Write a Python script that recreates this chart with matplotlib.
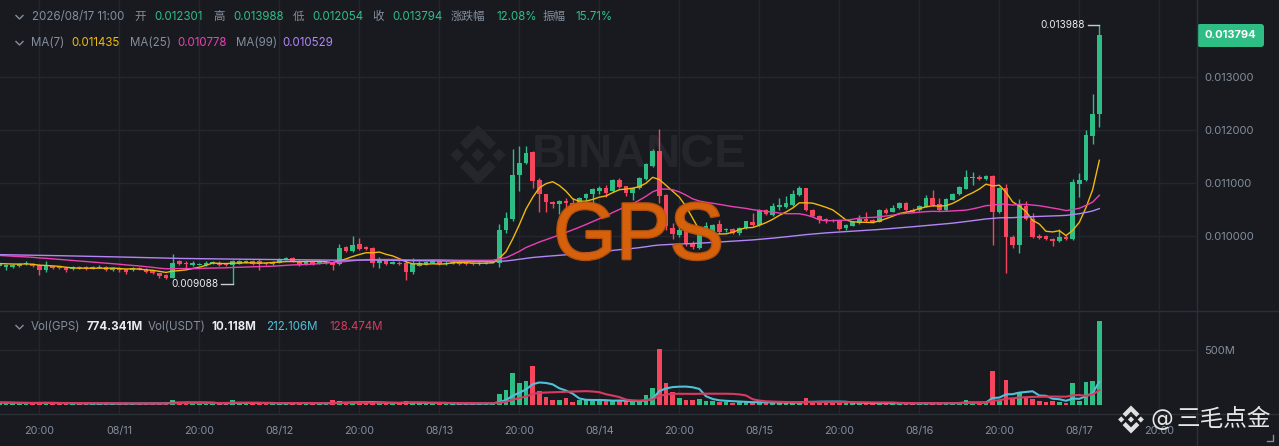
import numpy as np
import pandas as pd
import matplotlib
matplotlib.use("Agg")
import matplotlib.pyplot as plt
import matplotlib.patheffects as pe
from matplotlib.lines import Line2D
from matplotlib.patches import Polygon, FancyBboxPatch
from matplotlib.ticker import FormatStrFormatter
from matplotlib.transforms import IdentityTransform

W, H = 1279, 446
BG = "#181a20"
GRID = "#23262c"
SEP = "#2b2f36"
TXT = "#848e9c"
UP = "#2ebd85"
DOWN = "#f6465d"
MA_COLORS = ["#f0b90b", "#eb40b5", "#b385f8"]
VOL_MA_COLORS = ["#4fc1d9", "#d93a62"]
FONT = ["Inter", "Noto Sans CJK SC", "DejaVu Sans"]

# GPS/USDT 1h candles, last one 2026/08/17 11:00
opens = [
    0.00944, 0.00941, 0.00942, 0.00944, 0.00947, 0.00947, 0.00946, 0.00935, 0.00944, 0.00942, 0.00939, 0.00937,
    0.00941, 0.00941, 0.00940, 0.00940, 0.00941, 0.00936, 0.00939, 0.00937, 0.00936, 0.00940, 0.00937, 0.00935,
    0.00930, 0.00926, 0.00921, 0.00952, 0.00950, 0.00945, 0.00946, 0.00945, 0.00949, 0.00950, 0.00948, 0.00945,
    0.00948, 0.00950, 0.00952, 0.00953, 0.00948, 0.00947, 0.00950, 0.00955, 0.00958, 0.00953, 0.00947, 0.00951,
    0.00948, 0.00949, 0.00950, 0.00947, 0.00979, 0.00972, 0.00984, 0.00980, 0.00978, 0.00950, 0.00955, 0.00948,
    0.00950, 0.00950, 0.00933, 0.00944, 0.00946, 0.00950, 0.00953, 0.00947, 0.00948, 0.00951, 0.00950, 0.00950,
    0.00947, 0.00948, 0.00950, 0.00950, 0.01011, 0.01033, 0.01115, 0.01137, 0.01158, 0.01105, 0.01079, 0.01065,
    0.01060, 0.01066, 0.01063, 0.01055, 0.01071, 0.01079, 0.01084, 0.01090, 0.01084, 0.01106, 0.01094, 0.01082,
    0.01090, 0.01108, 0.01133, 0.01160, 0.01077, 0.01016, 0.01002, 0.01011, 0.00986, 0.00978, 0.01004, 0.01005,
    0.01023, 0.01011, 0.01014, 0.01006, 0.01015, 0.01027, 0.01021, 0.01049, 0.01040, 0.01055, 0.01055, 0.01058,
    0.01077, 0.01090, 0.01050, 0.01038, 0.01032, 0.01031, 0.01030, 0.01016, 0.01019, 0.01024, 0.01033, 0.01031,
    0.01027, 0.01050, 0.01046, 0.01052, 0.01063, 0.01050, 0.01049, 0.01055, 0.01072, 0.01060, 0.01049, 0.01068,
    0.01079, 0.01089, 0.01109, 0.01111, 0.01107, 0.01113, 0.01045, 0.01090, 0.00999, 0.00983, 0.01057, 0.01033,
    0.01000, 0.01000, 0.00994, 0.00991, 0.00999, 0.00994, 0.01099, 0.01106, 0.01189, 0.012301,
]
highs = [
    0.00951, 0.00947, 0.00947, 0.00950, 0.00953, 0.00949, 0.00948, 0.00952, 0.00946, 0.00944, 0.00941, 0.00944,
    0.00943, 0.00943, 0.00944, 0.00946, 0.00943, 0.00941, 0.00941, 0.00938, 0.00942, 0.00942, 0.00939, 0.00936,
    0.00931, 0.00928, 0.00966, 0.00955, 0.00952, 0.00952, 0.00950, 0.00952, 0.00953, 0.00952, 0.00950, 0.00954,
    0.00954, 0.00955, 0.00954, 0.00957, 0.00950, 0.00953, 0.00959, 0.00961, 0.00960, 0.00955, 0.00954, 0.00953,
    0.00954, 0.00953, 0.00952, 0.00985, 0.00981, 0.01000, 0.00997, 0.00982, 0.00980, 0.00961, 0.00957, 0.00953,
    0.00952, 0.00952, 0.00958, 0.00952, 0.00953, 0.00955, 0.00955, 0.00952, 0.00952, 0.00953, 0.00951, 0.00951,
    0.00952, 0.00952, 0.00954, 0.01023, 0.01045, 0.01165, 0.01170, 0.01170, 0.01160, 0.01109, 0.01080, 0.01066,
    0.01067, 0.01071, 0.01071, 0.01074, 0.01081, 0.01090, 0.01095, 0.01096, 0.01108, 0.01110, 0.01095, 0.01093,
    0.01112, 0.01138, 0.01165, 0.01202, 0.01080, 0.01025, 0.01020, 0.01015, 0.00990, 0.01010, 0.01027, 0.01022,
    0.01030, 0.01015, 0.01016, 0.01017, 0.01029, 0.01043, 0.01051, 0.01051, 0.01062, 0.01071, 0.01075, 0.01086,
    0.01094, 0.01091, 0.01051, 0.01040, 0.01034, 0.01033, 0.01031, 0.01023, 0.01029, 0.01040, 0.01046, 0.01033,
    0.01051, 0.01052, 0.01058, 0.01065, 0.01065, 0.01052, 0.01059, 0.01077, 0.01086, 0.01072, 0.01072, 0.01082,
    0.01094, 0.01125, 0.01121, 0.01116, 0.01116, 0.01116, 0.01092, 0.01099, 0.01001, 0.01069, 0.01066, 0.01043,
    0.01003, 0.01002, 0.00996, 0.01014, 0.01001, 0.01108, 0.01118, 0.01200, 0.01268, 0.013988,
]
lows = [
    0.00941, 0.00936, 0.00940, 0.00942, 0.00945, 0.00942, 0.00926, 0.00933, 0.00937, 0.00937, 0.00933, 0.00935,
    0.00937, 0.00935, 0.00938, 0.00939, 0.00934, 0.00934, 0.00933, 0.00929, 0.00934, 0.00935, 0.00931, 0.00928,
    0.00921, 0.00919, 0.00920, 0.00946, 0.00939, 0.00944, 0.00945, 0.00944, 0.00947, 0.00943, 0.00943, 0.009088,
    0.00947, 0.00949, 0.00946, 0.00935, 0.00945, 0.00946, 0.00949, 0.00954, 0.00951, 0.00943, 0.00946, 0.00946,
    0.00947, 0.00948, 0.00936, 0.00945, 0.00970, 0.00970, 0.00973, 0.00973, 0.00941, 0.00939, 0.00946, 0.00947,
    0.00945, 0.00917, 0.00928, 0.00943, 0.00945, 0.00949, 0.00945, 0.00946, 0.00947, 0.00946, 0.00946, 0.00945,
    0.00946, 0.00947, 0.00949, 0.00942, 0.01006, 0.01028, 0.01085, 0.01135, 0.01091, 0.01046, 0.01046, 0.01052,
    0.01041, 0.01052, 0.01052, 0.01054, 0.01060, 0.01060, 0.01079, 0.01074, 0.01083, 0.01090, 0.01075, 0.01068,
    0.01088, 0.01106, 0.01130, 0.01062, 0.01012, 0.00995, 0.00998, 0.00982, 0.00975, 0.00975, 0.01000, 0.01002,
    0.01005, 0.01008, 0.01004, 0.01002, 0.01013, 0.01019, 0.01019, 0.01040, 0.01038, 0.01049, 0.01053, 0.01056,
    0.01075, 0.01048, 0.01035, 0.01024, 0.01024, 0.01026, 0.01012, 0.01012, 0.01018, 0.01023, 0.01026, 0.01025,
    0.01026, 0.01042, 0.01045, 0.01051, 0.01048, 0.01045, 0.01048, 0.01054, 0.01056, 0.01047, 0.01047, 0.01067,
    0.01078, 0.01088, 0.01096, 0.01106, 0.01105, 0.00983, 0.01043, 0.00931, 0.00978, 0.00967, 0.01030, 0.00997,
    0.00994, 0.00992, 0.00981, 0.00988, 0.00992, 0.00993, 0.01074, 0.01104, 0.01174, 0.012054,
]
closes = [
    0.00948, 0.00945, 0.00945, 0.00947, 0.00950, 0.00944, 0.00935, 0.00945, 0.00939, 0.00939, 0.00935, 0.00942,
    0.00939, 0.00937, 0.00942, 0.00942, 0.00936, 0.00939, 0.00935, 0.00933, 0.00940, 0.00937, 0.00933, 0.00930,
    0.00925, 0.00921, 0.00950, 0.00947, 0.00947, 0.00950, 0.00948, 0.00950, 0.00951, 0.00945, 0.00945, 0.00952,
    0.00952, 0.00952, 0.00948, 0.00948, 0.00947, 0.00951, 0.00957, 0.00959, 0.00953, 0.00945, 0.00952, 0.00948,
    0.00952, 0.00951, 0.00945, 0.00978, 0.00972, 0.00983, 0.00975, 0.00975, 0.00950, 0.00955, 0.00948, 0.00951,
    0.00947, 0.00933, 0.00948, 0.00950, 0.00951, 0.00953, 0.00947, 0.00950, 0.00950, 0.00948, 0.00948, 0.00947,
    0.00950, 0.00950, 0.00952, 0.01011, 0.01034, 0.01116, 0.01137, 0.01156, 0.01104, 0.01079, 0.01065, 0.01060,
    0.01066, 0.01062, 0.01055, 0.01072, 0.01080, 0.01088, 0.01090, 0.01082, 0.01106, 0.01093, 0.01082, 0.01090,
    0.01109, 0.01135, 0.01160, 0.01076, 0.01018, 0.01003, 0.01012, 0.00986, 0.00979, 0.01004, 0.01018, 0.01020,
    0.01008, 0.01013, 0.01006, 0.01016, 0.01028, 0.01021, 0.01050, 0.01042, 0.01057, 0.01058, 0.01062, 0.01079,
    0.01090, 0.01050, 0.01038, 0.01031, 0.01029, 0.01028, 0.01014, 0.01021, 0.01027, 0.01033, 0.01028, 0.01027,
    0.01049, 0.01044, 0.01053, 0.01063, 0.01050, 0.01046, 0.01057, 0.01072, 0.01058, 0.01049, 0.01069, 0.01080,
    0.01092, 0.01111, 0.01112, 0.01107, 0.01114, 0.01045, 0.01090, 0.00999, 0.00983, 0.01058, 0.01033, 0.00999,
    0.00996, 0.00994, 0.00991, 0.00999, 0.00994, 0.01101, 0.01106, 0.01191, 0.01230, 0.013794,
]
# volume in millions of GPS
volumes = [
    20, 18, 15, 15, 16, 14, 22, 20, 14, 12, 14, 12,
    10, 11, 10, 12, 13, 10, 12, 14, 12, 10, 12, 14,
    16, 18, 48, 20, 16, 14, 12, 12, 12, 14, 12, 42,
    14, 12, 12, 16, 10, 12, 18, 20, 16, 18, 12, 10,
    12, 10, 40, 30, 20, 24, 20, 16, 22, 18, 14, 12,
    12, 39, 20, 14, 12, 12, 12, 10, 10, 10, 10, 12,
    12, 14, 18, 98, 134, 296, 204, 220, 354, 128, 67, 43,
    43, 58, 24, 40, 43, 55, 43, 30, 30, 30, 30, 30,
    37, 88, 155, 509, 204, 113, 58, 43, 43, 49, 37, 30,
    27, 24, 20, 22, 22, 20, 30, 18, 20, 16, 16, 22,
    24, 64, 30, 25, 22, 18, 20, 14, 14, 16, 16, 12,
    18, 14, 12, 14, 14, 12, 12, 18, 16, 14, 16, 18,
    20, 43, 20, 14, 14, 308, 43, 226, 58, 119, 58, 55,
    34, 27, 37, 27, 18, 201, 37, 207, 223, 774.341,
]

time_labels = ["20:00", "08/11", "20:00", "08/12", "20:00", "08/13", "20:00",
               "08/14", "20:00", "08/15", "20:00", "08/16", "20:00", "08/17", "20:00"]
price_ticks = [0.010, 0.011, 0.012, 0.013]
ma_windows = [7, 25, 99]
ma_left = [0.00948, 0.00964, 0.00965]   # MA levels at the left edge of the chart
vol_ma_windows = [7, 14]


def sma(values, n, lead):
    s = pd.Series([lead] * (n - 1) + list(values))
    return s.rolling(n).mean().to_numpy()[n - 1:]


plt.rcParams["font.family"] = FONT

o, h, l, c = (np.array(a) for a in (opens, highs, lows, closes))
v = np.array(volumes)
x = np.arange(len(c))
col = np.where(c >= o, UP, DOWN)

fig = plt.figure(figsize=(W / 100, H / 100), dpi=100, facecolor=BG)


def rect(top, bottom, right=1196):
    return [0, 1 - bottom / H, right / W, (bottom - top) / H]


ax_p = fig.add_axes(rect(0, 310))
ax_v = fig.add_axes(rect(312, 414))
P_LIM = (0.0086038, 0.0144528)
V_LIM = (-85, 853)
X_LIM = (0.1, 179.5)
tick_pos = list(range(6, 6 + 12 * len(time_labels), 12))

for ax in (ax_p, ax_v):
    ax.set_facecolor(BG)
    for s in ax.spines.values():
        s.set_visible(False)
    ax.set_xlim(*X_LIM)
    ax.set_xticks(tick_pos)
    ax.yaxis.tick_right()
    ax.tick_params(length=0, labelsize=8, labelcolor=TXT, pad=5.8)
    ax.grid(True, color=GRID, lw=1, zorder=0)
    ax.set_axisbelow(True)

ax_p.set_ylim(*P_LIM)
ax_p.set_yticks(price_ticks)
ax_p.yaxis.set_major_formatter(FormatStrFormatter("%.6f"))
ax_p.tick_params(axis="x", labelbottom=False)

ax_v.set_ylim(*V_LIM)
ax_v.set_yticks([500])
ax_v.set_yticklabels(["500M"])
ax_v.set_xticklabels(time_labels)
ax_v.tick_params(axis="x", pad=8.5, labelsize=7.8)

# exchange watermark under the candles
ax_p.text(639 / 1196, 1 - 155 / 310, "BINANCE", transform=ax_p.transAxes, ha="center", va="center",
          fontsize=34, fontweight="bold", family="Liberation Sans", color="#24262c", zorder=1)

LOGO = [
    [(0, .22), (.22, 0), (0, -.22), (-.22, 0)],
    [(-.7, .22), (-.48, 0), (-.7, -.22), (-.92, 0)],
    [(.7, .22), (.92, 0), (.7, -.22), (.48, 0)],
    [(0, 1), (.6, .4), (.38, .18), (0, .56), (-.38, .18), (-.6, .4)],
    [(0, -1), (.6, -.4), (.38, -.18), (0, -.56), (-.38, -.18), (-.6, -.4)],
]


def logo(target, cx, cy, s, color, z):
    for shape in LOGO:
        pts = [(cx + s * u, H - (cy - s * w)) for u, w in shape]
        poly = Polygon(pts, closed=True, fc=color, ec="none", transform=IdentityTransform(),
                       zorder=z, clip_on=False)
        if target is fig:
            fig.add_artist(poly)
        else:
            target.add_patch(poly)


logo(ax_p, 478, 155, 30, "#24262c", 1)

# candles
px = (P_LIM[1] - P_LIM[0]) / 310
ax_p.vlines(x, l, h, colors=col, lw=1, zorder=3)
ax_p.bar(x, np.maximum(np.abs(c - o), px), bottom=np.minimum(o, c), width=0.7,
         color=col, lw=0, zorder=3)
for n, lead, mc in zip(ma_windows, ma_left, MA_COLORS):
    ax_p.plot(x, sma(c, n, lead), color=mc, lw=1, zorder=4)

# token stamp, drawn over the candles, slightly see-through
ax_p.text(638.5 / 1196, 1 - 238 / 310, "GPS", transform=ax_p.transAxes, ha="center", va="center",
          fontsize=58, family="Liberation Sans", color="#d9620b", alpha=0.88, zorder=6,
          path_effects=[pe.withStroke(linewidth=2, foreground="#c2560b", alpha=0.9)])

# high / low markers
hi, lo = int(np.argmax(h)), int(np.argmin(l))
for i, val in ((hi, h[hi]), (lo, l[lo])):
    ax_p.plot([i - 1.7, i], [val, val], color="#c9ccd1", lw=1, zorder=5)
    ax_p.text(i - 2.1, val, f"{val:.6f}", ha="right", va="center", fontsize=7.2,
              color="#eaecef", zorder=5)

# volume
ax_v.bar(x, v, width=0.7, color=col, lw=0, zorder=2)
for n, vc in zip(vol_ma_windows, VOL_MA_COLORS):
    ax_v.plot(x, pd.Series(v).rolling(n, min_periods=1).mean(), color=vc, lw=1.5, zorder=3)

# separators
for y in (311, 414):
    fig.add_artist(Line2D([0, W], [H - y, H - y], transform=IdentityTransform(), color=SEP, lw=1))
fig.add_artist(Line2D([1196.5, 1196.5], [0, H], transform=IdentityTransform(), color=SEP, lw=1))


def ftext(px_x, px_y, s, color=TXT, **kw):
    fig.text(px_x / W, 1 - px_y / H, s, color=color, ha=kw.pop("ha", "left"), va="center",
             fontsize=kw.pop("fontsize", 8.3), **kw)


def chevron(px_y):
    fig.add_artist(Line2D([16, 19.5, 23], [H - px_y + 1.5, H - px_y - 2, H - px_y + 1.5],
                          transform=IdentityTransform(), color=TXT, lw=1))


# legend rows
chevron(17)
row1 = [(32, "2026/08/17 11:00", TXT), (134, "开", TXT), (154, f"{o[-1]:.6f}", UP),
        (213, "高", TXT), (233, f"{h[-1]:.6f}", UP), (293, "低", TXT), (312, f"{l[-1]:.6f}", UP),
        (372, "收", TXT), (392, f"{c[-1]:.6f}", UP), (451, "涨跌幅", TXT), (496, "12.08%", UP),
        (543, "振幅", TXT), (575, "15.71%", UP)]
for px_x, s, cc in row1:
    ftext(px_x, 17, s, cc)

chevron(43)
row2 = [(31, "MA(7)", TXT), (71, "0.011435", MA_COLORS[0]), (130, "MA(25)", TXT),
        (177, "0.010778", MA_COLORS[1]), (236, "MA(99)", TXT), (282, "0.010529", MA_COLORS[2])]
for px_x, s, cc in row2:
    ftext(px_x, 43, s, cc)

chevron(327)
row3 = [(31, "Vol(GPS)", TXT, "normal"), (87, "774.341M", "#eaecef", "bold"),
        (148, "Vol(USDT)", TXT, "normal"), (211, "10.118M", "#eaecef", "bold"),
        (266, "212.106M", VOL_MA_COLORS[0], "normal"), (329, "128.474M", VOL_MA_COLORS[1], "normal")]
for px_x, s, cc, wt in row3:
    ftext(px_x, 327, s, cc, fontweight=wt)

# last price tag
fig.add_artist(FancyBboxPatch((1197, H - 47), 67, 23, boxstyle="round,pad=0,rounding_size=3",
                              transform=IdentityTransform(), fc=UP, ec="none"))
ftext(1230.5, 35.5, f"{c[-1]:.6f}", "white", ha="center", fontweight="bold", fontsize=8)

# author watermark (sits over the last time label, as in the original)
logo(fig, 1131, 419.5, 14, "#e0e0e0", 10)
ftext(1150, 420, "@", "#e6e6e6", fontsize=16.5, family=["DejaVu Sans"])
ftext(1176, 420, "三毛点金", "#e6e6e6", fontsize=17, family=["Noto Sans CJK SC"])
fig.add_artist(Line2D([1267, 1273, 1273], [H - 441, H - 441, H - 435],
                      transform=IdentityTransform(), color=TXT, lw=1))

fig.savefig("out.png", dpi=100, facecolor=BG)
